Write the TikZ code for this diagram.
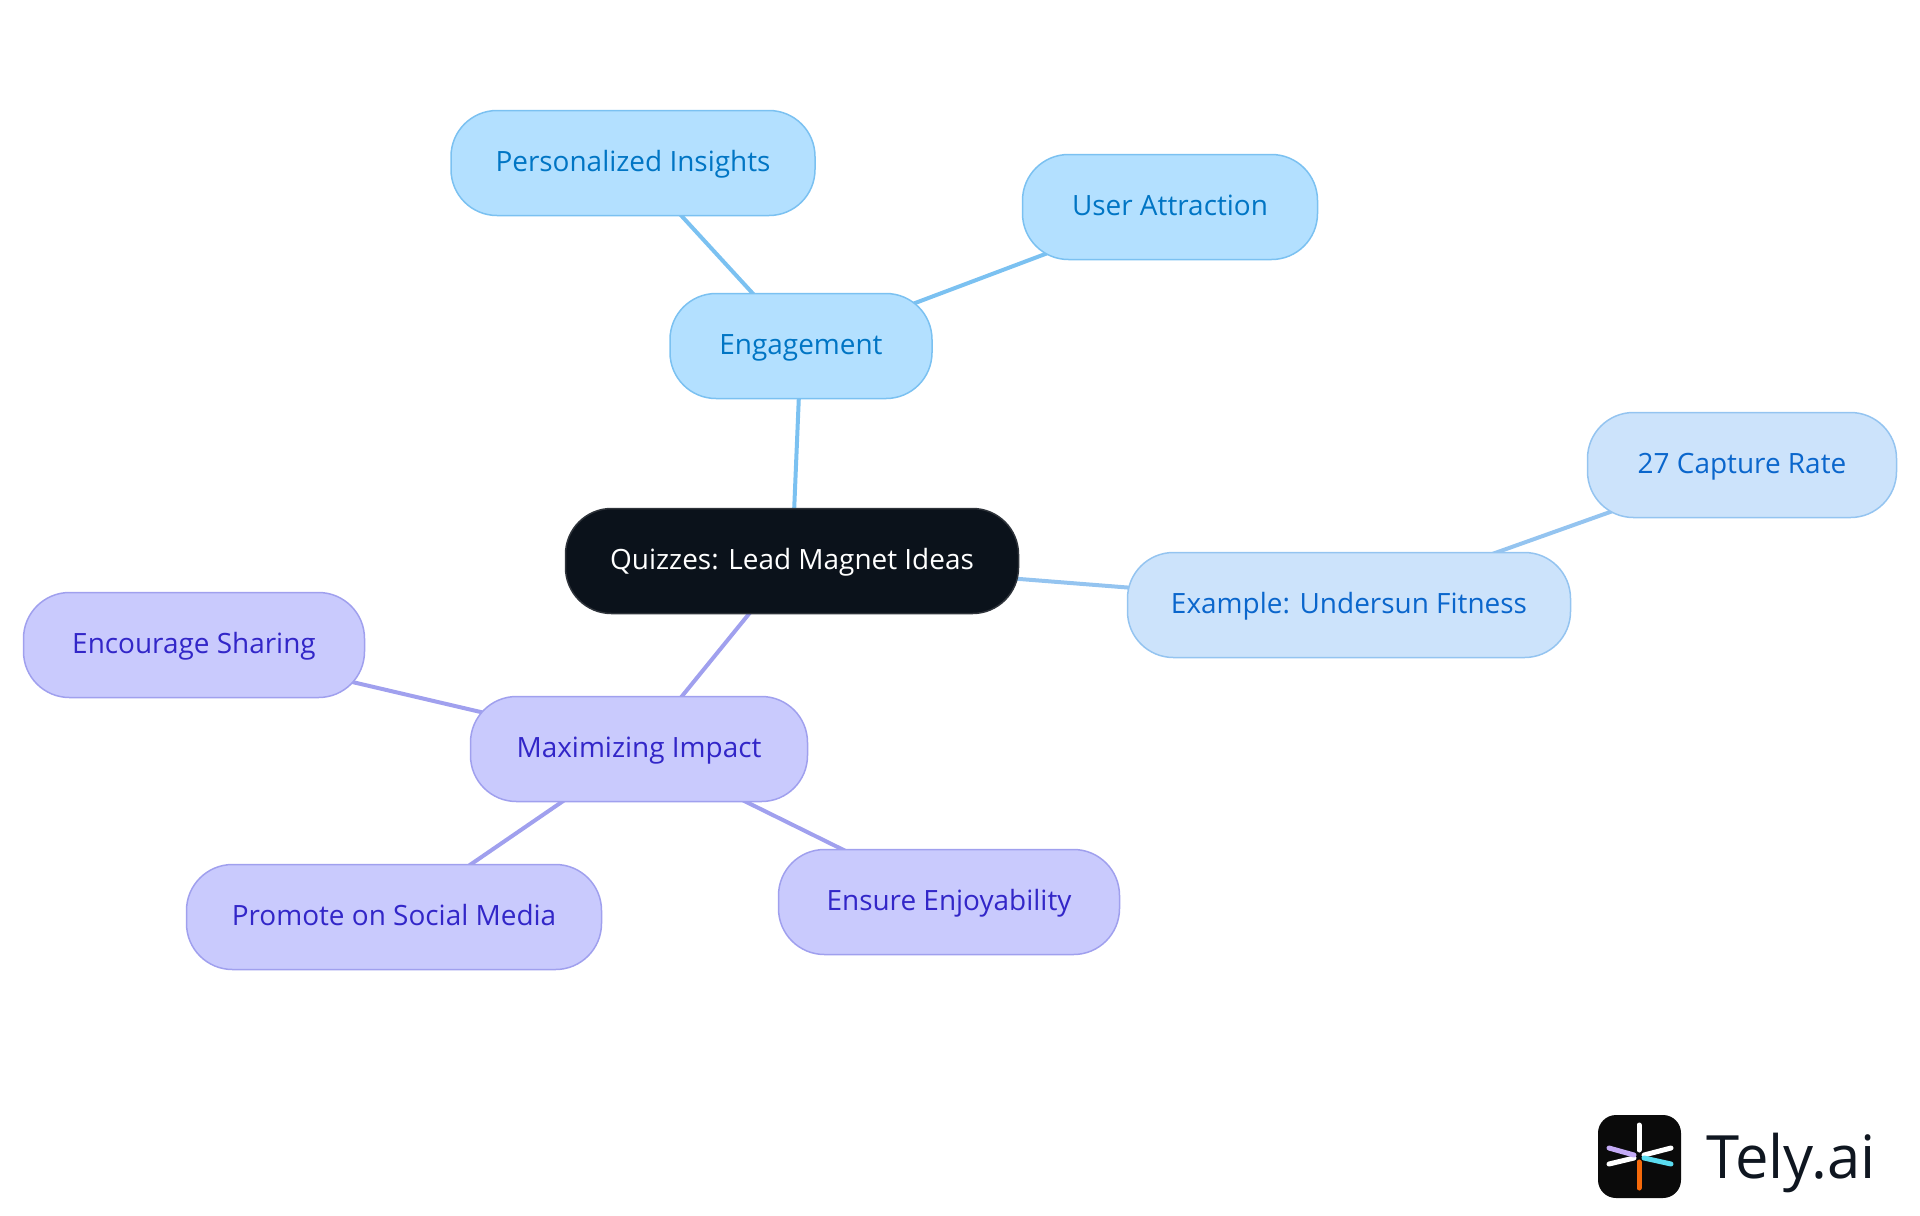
\documentclass[tikz,border=0pt]{standalone}
\usepackage{fontspec}
\setmainfont{Open Sans}
\usetikzlibrary{backgrounds}
\definecolor{rootfill}{HTML}{0B121B}
\definecolor{rootline}{HTML}{2E333A}
\definecolor{skyfill}{HTML}{B3E0FF}
\definecolor{skyline}{HTML}{7BC1F1}
\definecolor{skytext}{HTML}{0075C4}
\definecolor{palefill}{HTML}{CCE3FB}
\definecolor{paleline}{HTML}{94C4F0}
\definecolor{paletext}{HTML}{0A66CC}
\definecolor{violetfill}{HTML}{C9CAFD}
\definecolor{violetline}{HTML}{A0A0EE}
\definecolor{violettext}{HTML}{3226C8}
\definecolor{logoink}{HTML}{0F1620}
\definecolor{logobox}{HTML}{0A0A0A}
\definecolor{logopurple}{HTML}{C3AAF5}
\definecolor{logocyan}{HTML}{5ADCF0}
\definecolor{logoorange}{HTML}{F5690A}
\tikzset{
  bubble/.style={rounded corners=46*0.02cm,line width=0.03cm,inner sep=0pt,
    minimum height=105*0.02cm,text height=0.42cm,text depth=0.1cm,
    font=\fontsize{15.9}{19}\selectfont},
  rootbubble/.style={bubble,fill=rootfill,draw=rootline,text=white},
  skybubble/.style={bubble,fill=skyfill,draw=skyline,text=skytext},
  palebubble/.style={bubble,fill=palefill,draw=paleline,text=paletext},
  violetbubble/.style={bubble,fill=violetfill,draw=violetline,text=violettext},
  link/.style={line width=0.08cm},
  spoke/.style={line width=0.1cm,line cap=round}
}
\begin{document}
\begin{tikzpicture}[x=0.02cm,y=-0.02cm]
    \useasboundingbox (0,0) rectangle (1920,1215);
    \node[rootbubble,minimum width=453*0.02cm] (root) at (792,561) {Quizzes: Lead Magnet Ideas};
    \node[skybubble,minimum width=262*0.02cm] (engagement) at (801,346) {Engagement};
    \node[skybubble,minimum width=364*0.02cm] (insights) at (633,163) {Personalized Insights};
    \node[skybubble,minimum width=295*0.02cm] (attraction) at (1170,207) {User Attraction};
    \node[palebubble,minimum width=443*0.02cm] (example) at (1349,605) {Example: Undersun Fitness};
    \node[palebubble,minimum width=309*0.02cm] (capture) at (1742,465) {27 Capture Rate};
    \node[violetbubble,minimum width=337*0.02cm] (impact) at (639,749) {Maximizing Impact};
    \node[violetbubble,minimum width=341*0.02cm] (sharing) at (194,645) {Encourage Sharing};
    \node[violetbubble,minimum width=415*0.02cm] (social) at (394,917) {Promote on Social Media};
    \node[violetbubble,minimum width=341*0.02cm] (enjoy) at (949,902) {Ensure Enjoyability};
    \begin{scope}[on background layer]
        \foreach \From/\To in {root/engagement,engagement/insights,engagement/attraction}
            \draw[link,skyline] (\From.center) -- (\To.center);
        \foreach \From/\To in {root/example,example/capture}
            \draw[link,paleline] (\From.center) -- (\To.center);
        \foreach \From/\To in {root/impact,impact/sharing,impact/social,impact/enjoy}
            \draw[link,violetline] (\From.center) -- (\To.center);
    \end{scope}
    \fill[logobox,rounded corners=18*0.02cm] (1598,1115) rectangle (1681,1198);
    \draw[spoke,white] (1639,1150) -- (1639,1125);
    \draw[spoke,white] (1644,1155) -- (1671,1148);
    \draw[spoke,white] (1634,1158) -- (1609,1164);
    \draw[spoke,logopurple] (1634,1155) -- (1609,1148);
    \draw[spoke,logocyan] (1644,1158) -- (1671,1164);
    \draw[spoke,logoorange] (1639,1162) -- (1639,1188);
    \node[anchor=base west,inner sep=0pt,text=logoink,font=\fontsize{34}{40}\selectfont] (brand) at (1706,1178) {Tely.ai};
\end{tikzpicture}
\end{document}
